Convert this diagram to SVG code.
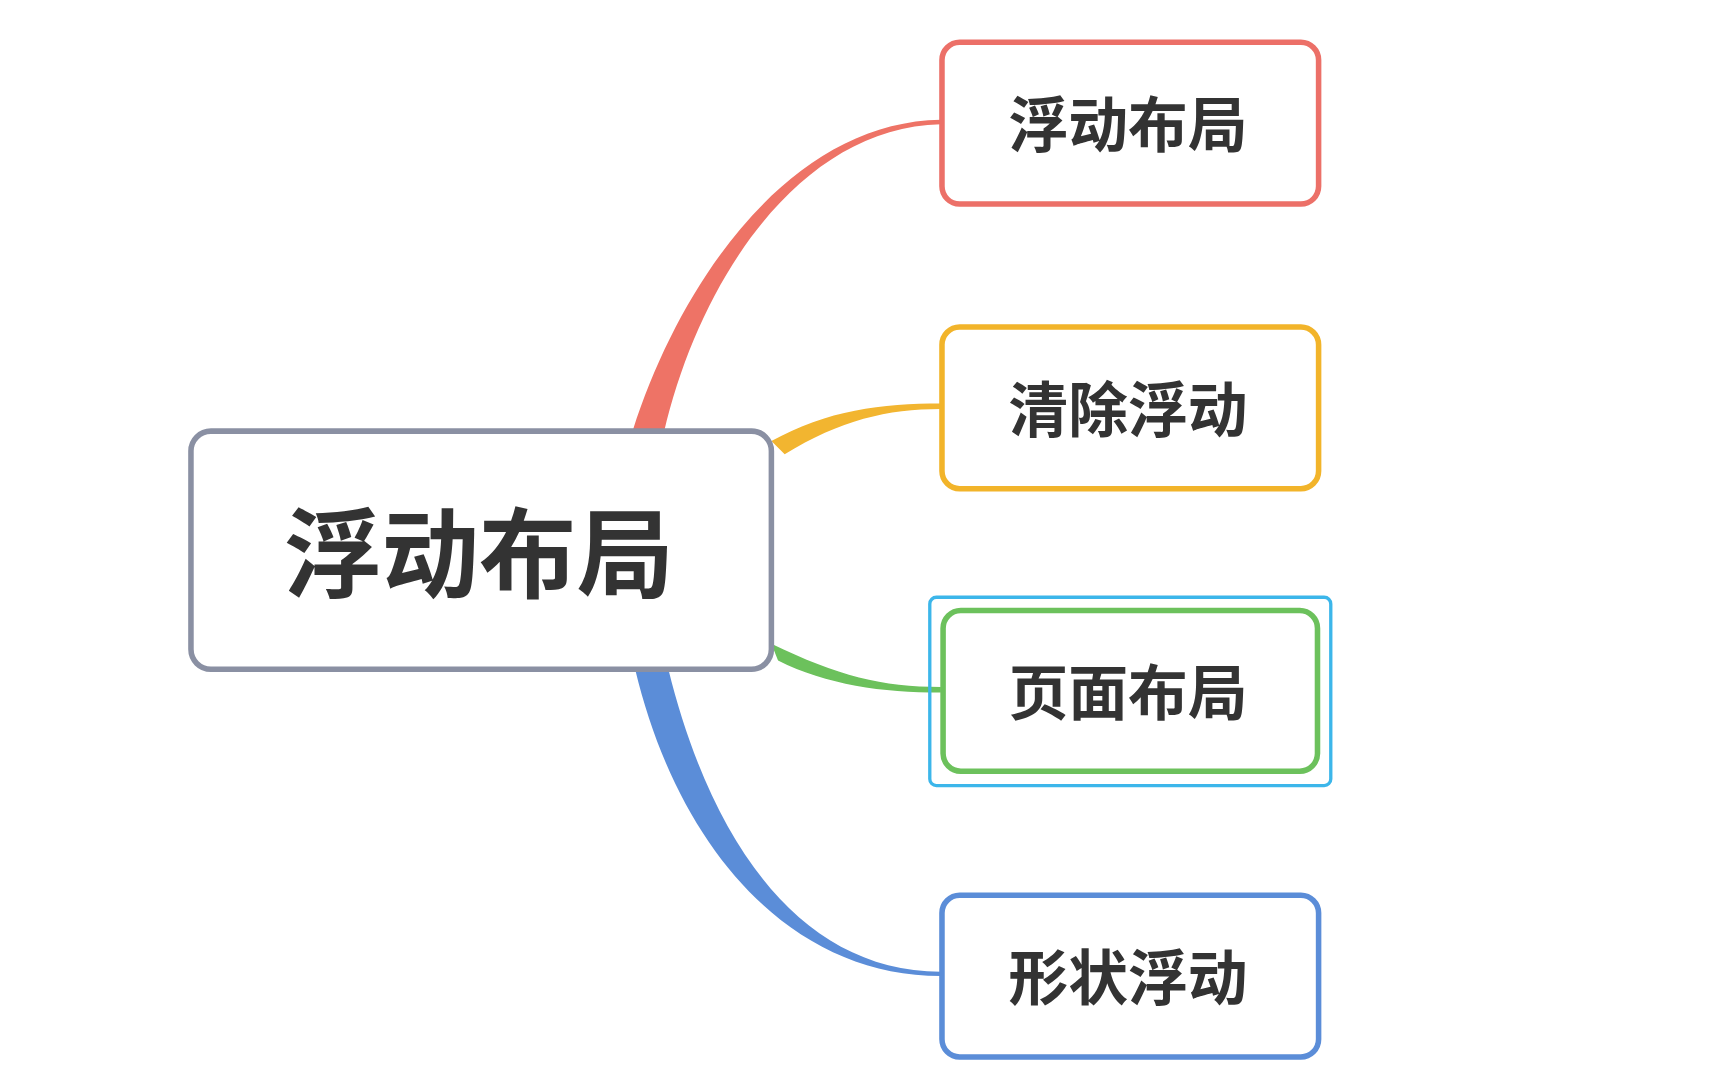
<svg xmlns="http://www.w3.org/2000/svg" width="1728" height="1080" viewBox="0 0 1728 1080">
<style>
.n{fill:#fff;stroke-width:5}
.t{font-family:"Noto Sans CJK SC","Noto Sans",sans-serif;font-weight:bold;fill:#333;text-anchor:middle;dominant-baseline:central}
</style>
<rect width="1728" height="1080" fill="#fff"/>
<g transform="translate(-4,-2) scale(1.1077)">
<g id="connectors">
<path d="M575,390 C620,250 720,112 853,110 L853,114 C725,117 635,255 603,392 Z" fill="#ee7366"/>
<path d="M700,400 C750,372 800,366 853,366 L853,371 C805,371 762,381 712,412 Z" fill="#f2b530"/>
<path d="M700,583 C760,612 800,622 853,622 L853,627 C800,627 750,620 706,598 Z" fill="#6cc15c"/>
<path d="M577,606 C615,765 715,883 853,883 L853,879 C725,879 645,760 607,606 Z" fill="#5b8dd8"/>
</g>
<g id="root"><rect class="n" x="176" y="391" width="524" height="215" rx="18" stroke="#8a90a3"/><text class="t" x="436" y="496" font-size="88">浮动布局</text></g>
<g id="n1"><rect class="n" x="854" y="40" width="340" height="146" rx="16" stroke="#ec7068"/><text class="t" x="1022" y="111" font-size="54">浮动布局</text></g>
<g id="n2"><rect class="n" x="854" y="297" width="340" height="146" rx="16" stroke="#f2b42a"/><text class="t" x="1022" y="368" font-size="54">清除浮动</text></g>
<g id="n3"><rect x="843" y="541" width="362" height="170" rx="6" fill="none" stroke="#3cb6ea" stroke-width="3"/><rect class="n" x="855" y="553" width="338" height="145" rx="16" stroke="#6cc15c" stroke-width="6"/><text class="t" x="1022" y="624" font-size="54">页面布局</text></g>
<g id="n4"><rect class="n" x="854" y="810" width="340" height="146" rx="16" stroke="#5b8dd8"/><text class="t" x="1022" y="881" font-size="54">形状浮动</text></g>
</g>
</svg>
